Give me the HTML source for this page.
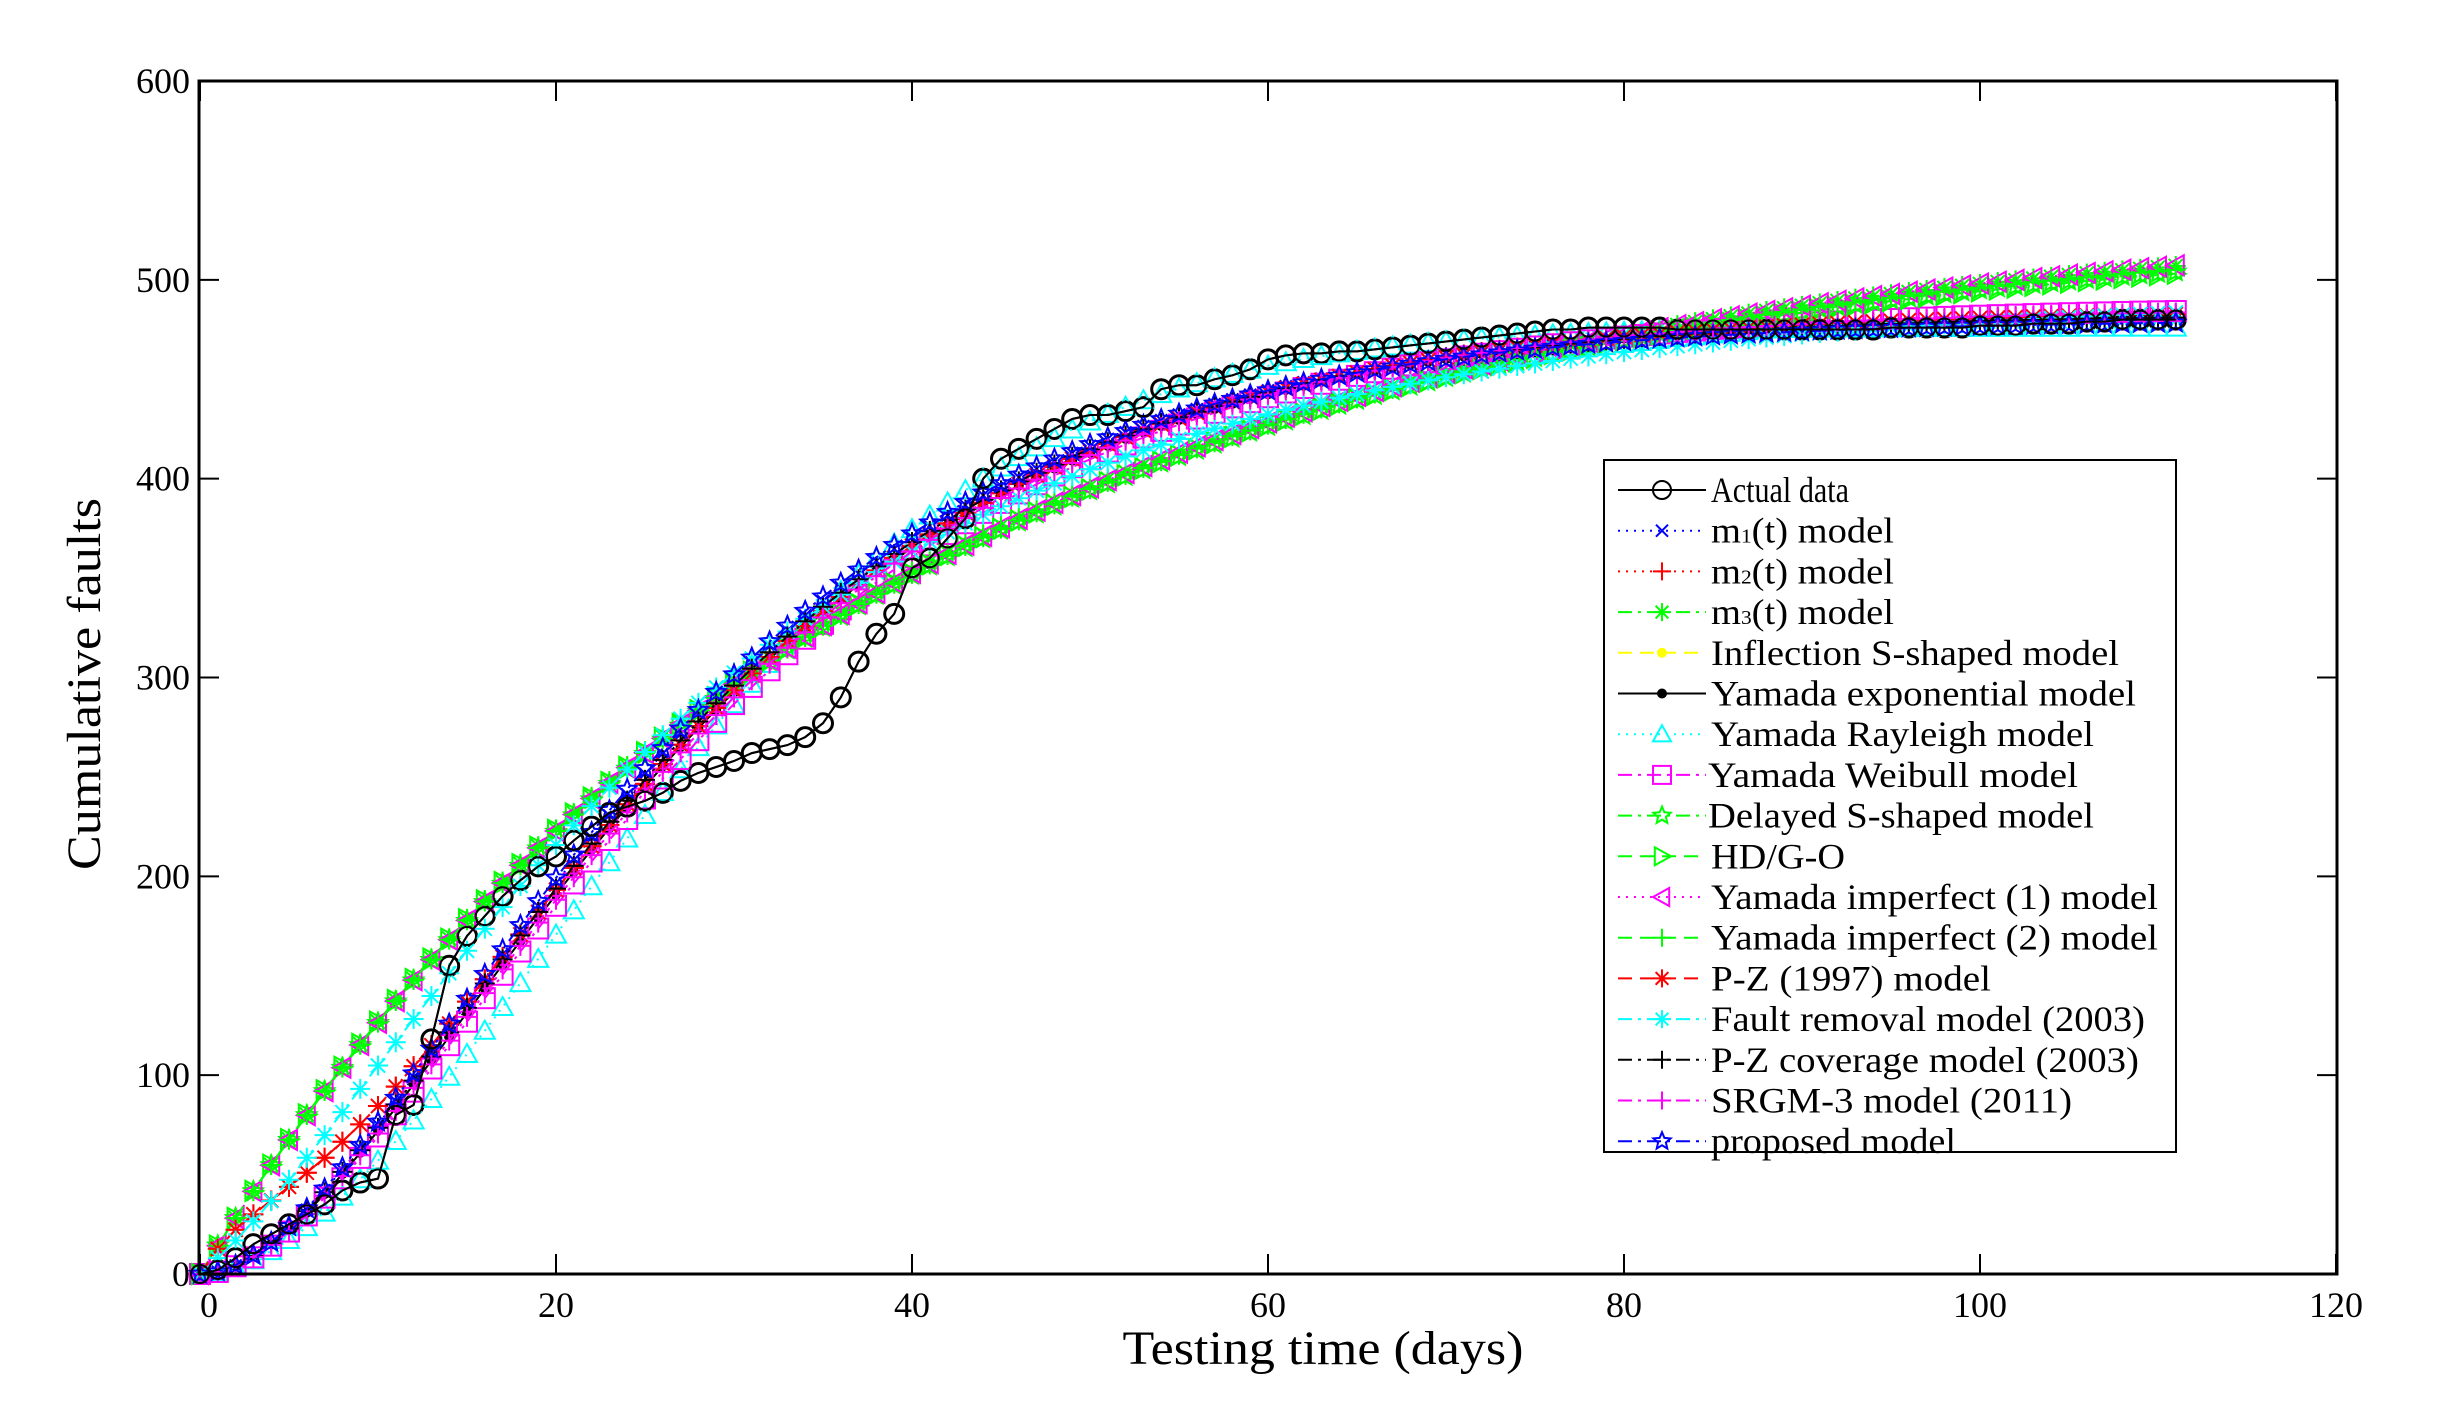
<!DOCTYPE html>
<html><head><meta charset="utf-8"><style>
html,body{margin:0;padding:0;background:#fff}
svg{display:block}
text{font-family:"Liberation Serif",serif;fill:#000}
</style></head><body>
<svg id="s" width="2440" height="1412" viewBox="0 0 2440 1412" xmlns="http://www.w3.org/2000/svg">
<rect width="2440" height="1412" fill="#fff"/>
<g id="plot"></g>
<g id="axes"></g>
<g id="leg"></g>
</svg>
<script>
var NS="http://www.w3.org/2000/svg";
var L=199,R=2337,T=81,B=1274,X0=200,XU=(2336-200)/120,YU=(B-T)/600;
function X(t){return X0+t*XU}function Y(v){return B-v*YU}
function el(p,tag,a,txt){var e=document.createElementNS(NS,tag);for(var k in a)e.setAttribute(k,a[k]);if(txt!=null)e.textContent=txt;p.appendChild(e);return e}
var plot=document.getElementById('plot'),axes=document.getElementById('axes'),leg=document.getElementById('leg');
var act=[0,2,8,15,20,25,30,35,42,46,48,80,85,118,155,170,180,190,198,205,210,218,225,232,235,238,242,248,252,255,258,262,264,266,270,277,290,308,322,332,355,360,370,380,400,410,415,420,425,430,432,432,434,436,445,447,447,450,452,455,460,462,463,463,464,464,465,466,467,468,469,470,471,472,473,474,475,475,476,476,476,476,476,475,475,475,475,475,475,475,475,475,475,475,475,476,476,476,476,476,477,477,477,478,478,478,479,479,480,480,480,480];
function A(t,a,b){a=a||530;b=b||0.028;return a*(1-Math.exp(-b*t))}
function S(t,a,b){a=a||485;b=b||0.068;return a*(1-(1+b*t)*Math.exp(-b*t))}
function W(t){return 476*(1-Math.exp(-Math.pow(t/31.4,1.8)))}
function FR(t){return 0.5*A(t,532,0.028)+0.5*S(t,460,0.075)}
function PZ(t){return S(t,485,0.068)+22*(t/4)*Math.exp(1-t/4)}
function INF(t){return S(t,484,0.068)}
var series=[
 {n:'Actual data',c:'#000',d:'',m:'o',f:function(t){return act[t]},w:138},
 {n:'m1',c:'#00f',d:'2,6',m:'x',f:function(t){return S(t,482,0.070)},w:183},
 {n:'m2',c:'#f00',d:'2,6',m:'+',f:PZ,w:183},
 {n:'m3',c:'#0f0',d:'14,6,3,6',m:'*',f:function(t){return A(t,533,0.0272)},w:183},
 {n:'Inflection S-shaped model',c:'#ff0',d:'14,8',m:'.',f:INF,w:408},
 {n:'Yamada exponential model',c:'#000',d:'',m:'.',f:function(t){return S(t,484,0.068)},w:425},
 {n:'Yamada Rayleigh model',c:'#0ff',d:'2,6',m:'^',f:W,w:383},
 {n:'Yamada Weibull model',c:'#f0f',d:'14,6,3,6',m:'s',f:function(t){return S(t,487,0.066)},w:370,dx:-3},
 {n:'Delayed S-shaped model',c:'#0f0',d:'14,6,3,6',m:'p',f:function(t){return A(t,530,0.0272)},w:386,dx:-3},
 {n:'HD/G-O',c:'#0f0',d:'14,8',m:'>',f:function(t){return A(t,528,0.0275)},w:134},
 {n:'Yamada imperfect (1) model',c:'#f0f',d:'2,6',m:'<',f:function(t){return A(t,534,0.027)},w:447},
 {n:'Yamada imperfect (2) model',c:'#0f0',d:'14,8',m:'+',f:function(t){return A(t,531,0.0272)},w:447},
 {n:'P-Z (1997) model',c:'#f00',d:'14,8',m:'*',f:PZ,w:280},
 {n:'Fault removal model (2003)',c:'#0ff',d:'14,6,3,6',m:'*',f:FR,w:434},
 {n:'P-Z coverage model (2003)',c:'#000',d:'14,6,3,6',m:'+',f:function(t){return S(t,483,0.069)},w:428},
 {n:'SRGM-3 model (2011)',c:'#f0f',d:'14,6,3,6',m:'+',f:function(t){return S(t,486,0.067)},w:361},
 {n:'proposed model',c:'#00f',d:'14,6,3,6',m:'p',f:function(t){return S(t,480,0.071)},w:245}
];
function marker(g,m,x,y,c,r){r=r||10;var a={fill:'none',stroke:c,'stroke-width':2};
 if(m=='o'){a.cx=x;a.cy=y;a.r=r;el(g,'circle',a)}
 else if(m=='x'){a.d='M'+(x-6)+' '+(y-6)+'L'+(x+6)+' '+(y+6)+'M'+(x-6)+' '+(y+6)+'L'+(x+6)+' '+(y-6);el(g,'path',a)}
 else if(m=='+'){a.d='M'+(x-r)+' '+y+'H'+(x+r)+'M'+x+' '+(y-r)+'V'+(y+r);el(g,'path',a)}
 else if(m=='*'){var s='';for(var i=0;i<4;i++){var an=i*Math.PI/4;s+='M'+(x-r*Math.cos(an))+' '+(y-r*Math.sin(an))+'L'+(x+r*Math.cos(an))+' '+(y+r*Math.sin(an))}a.d=s;el(g,'path',a)}
 else if(m=='.'){el(g,'circle',{cx:x,cy:y,r:5,fill:c})}
 else if(m=='^'){a.d='M'+x+' '+(y-r)+'L'+(x+r)+' '+(y+r*0.8)+'L'+(x-r)+' '+(y+r*0.8)+'Z';el(g,'path',a)}
 else if(m=='>'){a.d='M'+(x+r)+' '+y+'L'+(x-r*0.8)+' '+(y-r)+'L'+(x-r*0.8)+' '+(y+r)+'Z';el(g,'path',a)}
 else if(m=='<'){a.d='M'+(x-r)+' '+y+'L'+(x+r*0.8)+' '+(y-r)+'L'+(x+r*0.8)+' '+(y+r)+'Z';el(g,'path',a)}
 else if(m=='s'){a.x=x-r;a.y=y-r;a.width=2*r;a.height=2*r;el(g,'rect',a)}
 else if(m=='p'){var s='';for(var i=0;i<10;i++){var rr=i%2?r*0.45:r,an=-Math.PI/2+i*Math.PI/5;s+=(i?'L':'M')+(x+rr*Math.cos(an)).toFixed(1)+' '+(y+rr*Math.sin(an)).toFixed(1)}a.d=s+'Z';el(g,'path',a)}
}
var order=[4,0,1,2,3,5,6,7,8,9,10,11,12,13,14,15,16];
for(var q=0;q<order.length;q++){var s=series[order[q]];var pts=[];
 for(var t=0;t<=111;t++)pts.push(X(t).toFixed(1)+','+Y(s.f(t)).toFixed(1));
 var a={points:pts.join(' '),fill:'none',stroke:s.c,'stroke-width':2};if(s.d)a['stroke-dasharray']=s.d;el(plot,'polyline',a);
 var g=el(plot,'g',{});for(var t=0;t<=111;t++)marker(g,s.m,X(t),Y(s.f(t)),s.c);
}
(function(){var s=series[0];var pts=[];for(var t=0;t<=111;t++)pts.push(X(t).toFixed(1)+','+Y(s.f(t)).toFixed(1));
 el(plot,'polyline',{points:pts.join(' '),fill:'none',stroke:'#000','stroke-width':2});
 var g=el(plot,'g',{});for(var t=0;t<=111;t++)marker(g,'o',X(t),Y(s.f(t)),'#000',9);})();
el(axes,'rect',{x:L,y:T,width:R-L,height:B-T,fill:'none',stroke:'#000','stroke-width':3});
for(var v=0;v<=600;v+=100){var y=Y(v);el(axes,'path',{d:'M'+L+' '+y+'h20M'+R+' '+y+'h-20',stroke:'#000','stroke-width':2});
 el(axes,'text',{x:190,y:y+12,'text-anchor':'end','font-size':36},v)}
for(var v=0;v<=120;v+=20){var x=X(v);el(axes,'path',{d:'M'+x+' '+B+'v-20M'+x+' '+T+'v20',stroke:'#000','stroke-width':2});
 el(axes,'text',{x:x+(v==0?9:0),y:1317,'text-anchor':'middle','font-size':36},v)}
el(axes,'text',{x:1323,y:1364,'text-anchor':'middle','font-size':48,textLength:401,lengthAdjust:'spacingAndGlyphs'},'Testing time (days)');
el(axes,'text',{x:0,y:0,'text-anchor':'middle','font-size':48,textLength:372,lengthAdjust:'spacingAndGlyphs',transform:'translate(100,684) rotate(-90)'},'Cumulative faults');
el(leg,'rect',{x:1604,y:460,width:572,height:692,fill:'#fff',stroke:'#000','stroke-width':2});
for(var i=0;i<series.length;i++){var s=series[i];var y=490+i*40.7;
 var a={d:'M1618 '+y+'H1706',stroke:s.c,'stroke-width':2};if(s.d)a['stroke-dasharray']=s.d;el(leg,'path',a);
 marker(leg,s.m,1662,y,s.c,9);
 var tx=el(leg,'text',{x:1711+(s.dx||0),y:y+12,'font-size':36,textLength:s.w,lengthAdjust:'spacingAndGlyphs'});
 if(/^m\d$/.test(s.n)){tx.appendChild(document.createTextNode('m'));el(tx,'tspan',{'font-size':20},s.n[1]);tx.appendChild(document.createTextNode('(t) model'))}
 else tx.textContent=s.n;
}
</script>
</body></html>
